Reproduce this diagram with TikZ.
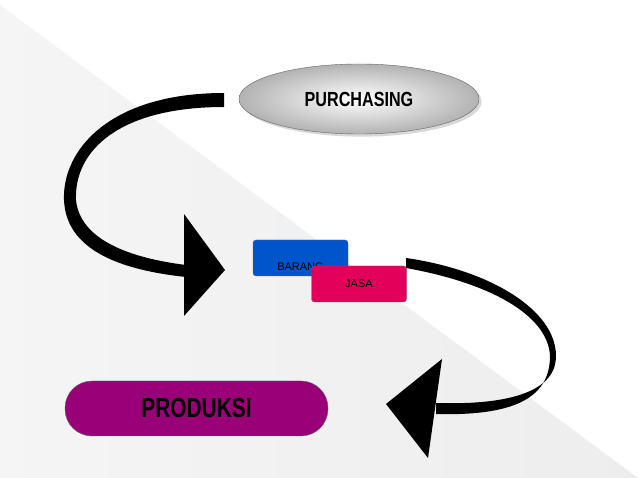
\documentclass[tikz,border=0pt]{standalone}
\usepackage{fontspec}
\setmainfont{Liberation Sans}
\usetikzlibrary{shadows,shapes.geometric}
\definecolor{bblue}{HTML}{0055CC}
\definecolor{jred}{HTML}{E2005A}
\definecolor{ppurp}{HTML}{990077}
\tikzset{
  box/.style={draw=black!60,rounded corners=3pt,minimum width=95pt,minimum height=36pt,font=\fontsize{11}{13}\selectfont,inner sep=0pt},
  heavy/.style={font=\bfseries}
}
\begin{document}
\begin{tikzpicture}[x=1pt,y=-1pt]
\useasboundingbox (0,0) rectangle (638,478);
\fill[white] (0,0) rectangle (638,478);
\shade[left color=black!4,right color=black!7] (0,5) -- (638,478) -- (0,478) -- cycle;
% arrow 1
\fill[black] (224,93) .. controls (110,93) and (62,150) .. (64,200) .. controls (66,250) and (120,270) .. (186,277)
  -- (186,265) .. controls (130,258) and (80,240) .. (76,200) .. controls (74,150) and (120,107) .. (224,107) -- cycle;
\fill[black] (184,214) -- (225,270) -- (184,316) -- cycle;
% arrow 2
\fill[black] (406,258) .. controls (490,270) and (556,310) .. (556,356) .. controls (556,395) and (500,405) .. (436,403)
  -- (436,414) .. controls (510,416) and (550,400) .. (550,356) .. controls (548,315) and (490,283) .. (406,268) -- cycle;
\fill[black] (386,404) -- (442,359) -- (428,458) -- cycle;
% nodes
\node[ellipse,draw=black!60,minimum width=240pt,minimum height=70pt,inner color=white,outer color=black!30,drop shadow={opacity=0.3}] (p) at (359,99) {};
\node[heavy] (pt) at (p) {\scalebox{0.95}[1.2]{\fontsize{17}{17}\selectfont PURCHASING}};
\node[box,fill=bblue] (b) at (300.5,258) {};
\node[anchor=south] (bt) at (300.5,274) {\fontsize{11}{13}\selectfont BARANG};
\node[box,fill=jred] (j) at (359,284) {\fontsize{11}{13}\selectfont JASA};
\node[draw=black!60,fill=ppurp,rounded corners=27pt,minimum width=263pt,minimum height=55pt] (pr) at (196.5,408.5) {};
\node[heavy] (prt) at (pr) {\scalebox{0.95}[1.25]{\fontsize{22}{22}\selectfont PRODUKSI}};
\end{tikzpicture}
\end{document}
